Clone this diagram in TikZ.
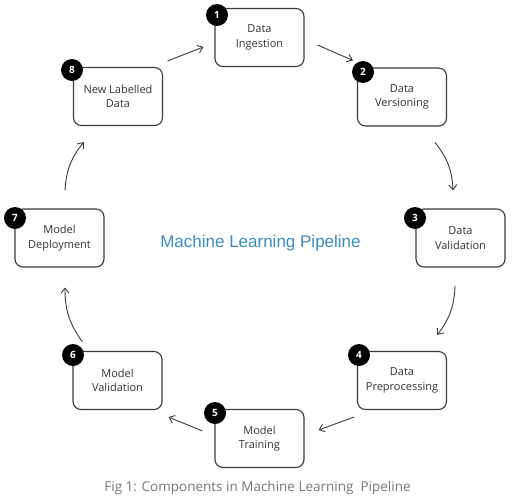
\documentclass[tikz,border=0pt]{standalone}
\usepackage{fontspec}
\setmainfont{Open Sans}
\newfontfamily\titlefont{Liberation Sans}
\usetikzlibrary{arrows.meta,calc}
\definecolor{titleblue}{HTML}{3A8CC1}
\definecolor{linegray}{HTML}{3A3A3A}
\definecolor{capgray}{HTML}{777777}
\tikzset{
  stagebox/.style={draw=linegray,line width=1.1pt,rounded corners=8pt,minimum width=89pt,minimum height=58pt,align=center,font=\fontsize{11}{14.5}\selectfont,text=black!80,inner sep=0pt},
  numdot/.style={circle,fill=black,text=white,minimum size=22pt,inner sep=0pt,font=\fontsize{10}{12}\selectfont\bfseries},
  arr/.style={draw=linegray,line width=0.9pt,-{Straight Barb[length=5pt,width=8pt]}}
}
\begin{document}
\begin{tikzpicture}[x=1pt,y=-1pt]
\useasboundingbox[fill=white] (0,0) rectangle (518,500);
\node[stagebox] (n1) at (259.5,37.5) {Data\\Ingestion};
\node[stagebox] (n2) at (402,97) {Data\\Versioning};
\node[stagebox] (n3) at (460.5,238) {Data\\Validation};
\node[stagebox] (n4) at (402,380.5) {Data\\Preprocessing};
\node[stagebox] (n5) at (259.5,438.5) {Model\\Training};
\node[stagebox] (n6) at (117.5,380.5) {Model\\Validation};
\node[stagebox] (n7) at (59.5,238) {Model\\Deployment};
\node[stagebox] (n8) at (118,96.5) {New Labelled\\Data};
\node[numdot] (c1) at (217,15) {1};
\node[numdot] (c2) at (363,72) {2};
\node[numdot] (c3) at (415,218) {3};
\node[numdot] (c4) at (359,355) {4};
\node[numdot] (c5) at (215,413) {5};
\node[numdot] (c6) at (73,355) {6};
\node[numdot] (c7) at (15,218) {7};
\node[numdot] (c8) at (72,70) {8};
\node[font=\titlefont\fontsize{17}{19}\selectfont,text=titleblue] (title) at (260.5,243) {Machine Learning Pipeline};
\node[font=\fontsize{13.5}{15}\selectfont,text=capgray] (caption) at (257.5,487.5) {Fig 1: Components in Machine Learning\ \ Pipeline};
\draw[arr] ([shift={(4.5,-6)}]n8.north east) -- ([shift={(-11,9.5)}]n1.west);
\draw[arr] ([shift={(13,7.5)}]n1.east) -- ([shift={(-4,-7)}]n2.north west);
\draw[arr] ([shift={(-12,16)}]n2.south east) to[bend left=18] ([shift={(-7.5,-18)}]n3.north);
\draw[arr] ([shift={(-5.5,18)}]n3.south) to[bend left=18] ([shift={(-10,-16)}]n4.north east);
\draw[arr] ([shift={(-3,7)}]n4.south west) -- ([shift={(14,-8.5)}]n5.east);
\draw[arr] ([shift={(-12,-7.5)}]n5.west) -- ([shift={(6,7)}]n6.south east);
\draw[arr] ([shift={(10,-9)}]n6.north west) to[bend left=18] ([shift={(5.5,20)}]n7.south);
\draw[arr] ([shift={(5.5,-18)}]n7.north) to[bend left=18] ([shift={(11,16)}]n8.south west);
\end{tikzpicture}
\end{document}
